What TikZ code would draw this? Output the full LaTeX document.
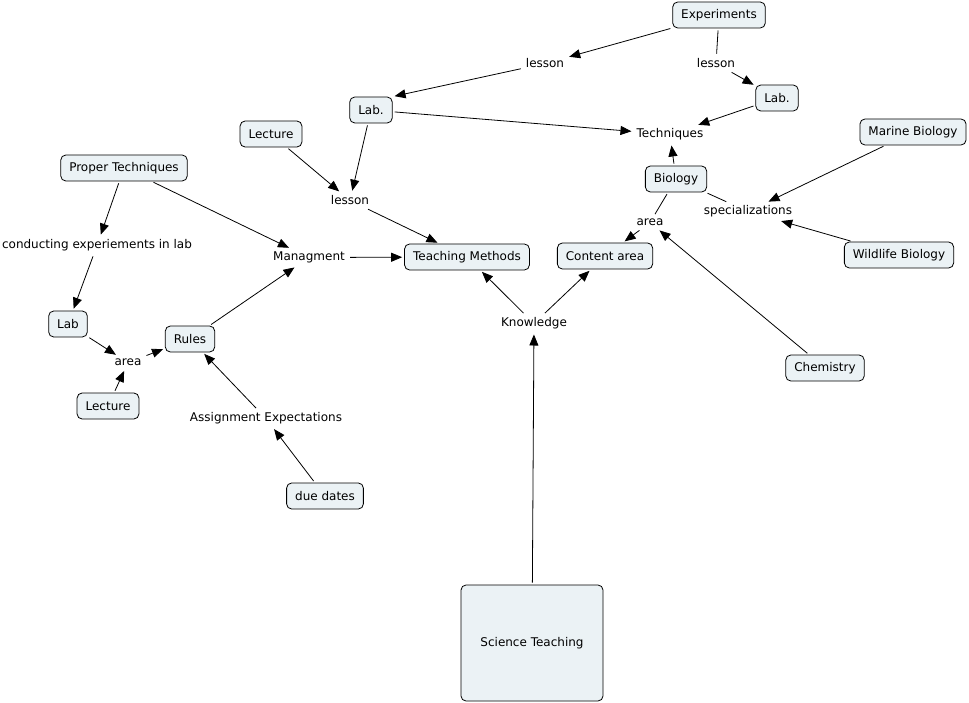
\documentclass[tikz,border=0pt]{standalone}
\usepackage{fontspec}
\setmainfont{DejaVu Sans}
\usetikzlibrary{arrows.meta}
\definecolor{fundo}{RGB}{235,242,245}
\tikzset{
  concept/.style={rectangle, rounded corners=5pt, draw=black, fill=fundo, line width=0.8pt,
    inner xsep=8.5pt, inner ysep=0pt, minimum height=26pt, font=\fontsize{12}{14}\selectfont},
  phrase/.style={inner sep=3pt, yshift=-1.5pt, font=\fontsize{12}{14}\selectfont},
  link/.style={black, line width=0.8pt, shorten <=2pt, shorten >=2pt},
  seta/.style={link, -{Triangle[length=11pt, width=9pt]}},
}
\begin{document}
\begin{tikzpicture}[x=1pt, y=-1pt]
  \useasboundingbox (0,0) rectangle (969,703);

  % ---------------- conceitos ----------------
  \node[concept] (exp) at (719,15) {Experiments};
  \node[concept] (labl) at (371,110) {Lab.};
  \node[concept] (labr) at (777,98) {Lab.};
  \node[concept] (lectop) at (271,134) {Lecture};
  \node[concept] (marine) at (913,132) {Marine Biology};
  \node[concept] (proper) at (124,168) {Proper Techniques};
  \node[concept] (bio) at (676,179) {Biology};
  \node[concept] (teach) at (467,257) {Teaching Methods};
  \node[concept] (content) at (605,256) {Content area};
  \node[concept] (wild) at (899,255) {Wildlife Biology};
  \node[concept] (lab) at (68,324) {Lab};
  \node[concept] (rules) at (190,339) {Rules};
  \node[concept] (chem) at (825,368) {Chemistry};
  \node[concept] (lecbot) at (108,406) {Lecture};
  \node[concept] (due) at (325,496) {due dates};
  \node[concept, minimum width=142pt, minimum height=116pt] (sci) at (532,643) {Science Teaching};

  % ---------------- frases de ligação ----------------
  \node[phrase] (lessl) at (545,62) {lesson};
  \node[phrase] (lessr) at (716,62) {lesson};
  \node[phrase] (tech) at (670,133) {Techniques};
  \node[phrase] (lessm) at (350,199) {lesson};
  \node[phrase] (spec) at (748,210) {specializations};
  \node[phrase] (arear) at (650,221) {area};
  \node[phrase] (cond) at (97,244) {conducting experiements in lab};
  \node[phrase] (man) at (309,256) {Managment};
  \node[phrase] (know) at (534,322) {Knowledge};
  \node[phrase] (areal) at (128,361) {area};
  \node[phrase] (assign) at (266,417) {Assignment Expectations};

  % ---------------- ligações ----------------
  \foreach \a/\b in {exp/lessr, bio/spec, bio/arear} { \draw[link] (\a) -- (\b); }
  \foreach \a/\b in {exp/lessl, lessr/labr, labl/tech, labr/tech, bio/tech,
      labl/lessm, lectop/lessm, lessm/teach, marine/spec, wild/spec,
      arear/content, chem/arear, proper/cond, cond/lab, proper/man, man/teach,
      rules/man, lab/areal, lecbot/areal, areal/rules, assign/rules, due/assign,
      sci/know, know/teach, know/content} {
    \draw[seta] (\a) -- (\b);
  }
  \draw[seta] (lessl) -- (labl.north east);
\end{tikzpicture}
\end{document}
